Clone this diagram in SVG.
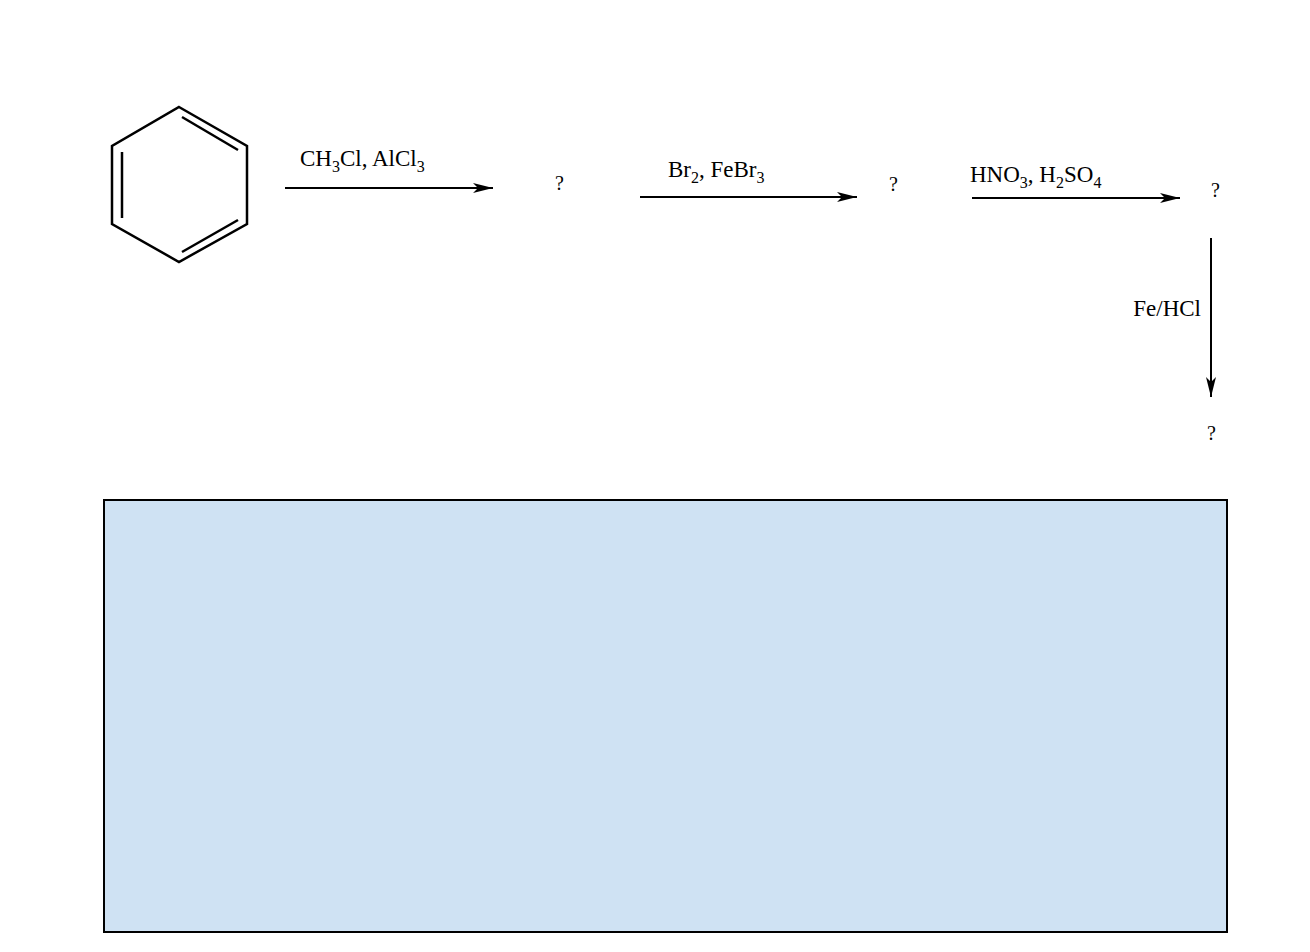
<svg xmlns="http://www.w3.org/2000/svg" width="1310" height="952" viewBox="0 0 1310 952">
<style>
text{font-family:"Liberation Serif","Times New Roman",serif;font-size:23px;fill:#000}
.q{font-size:20px}
.b{stroke:#000;stroke-width:2.5;fill:none}
.c{stroke:#000;stroke-width:2;fill:none}
</style>
<defs><marker id="ah" viewBox="0 0 20 10" refX="20" refY="5" markerWidth="20" markerHeight="10" markerUnits="userSpaceOnUse" orient="auto"><path d="M0,0 L20,5 L0,10 L5,5 Z" fill="#000"/></marker></defs>
<rect width="1310" height="952" fill="#fff"/>
<g id="benzene">
<polygon class="b" points="179,107 247,146 247,224 179,262 112,224 112,146"/>
<line class="b" x1="182" y1="117" x2="238" y2="150"/>
<line class="b" x1="122" y1="152" x2="122" y2="218"/>
<line class="b" x1="182" y1="252" x2="238" y2="220"/>
</g>
<g id="connectors">
<line class="c" x1="285" y1="188" x2="493" y2="188" marker-end="url(#ah)"/>
<line class="c" x1="640" y1="197" x2="857" y2="197" marker-end="url(#ah)"/>
<line class="c" x1="972" y1="198" x2="1180" y2="198" marker-end="url(#ah)"/>
<line class="c" x1="1211" y1="238" x2="1211" y2="397" marker-end="url(#ah)"/>
</g>
<g id="labels">
<text x="300" y="166">CH<tspan font-size="16" dy="6">3</tspan><tspan dy="-6">Cl, AlCl</tspan><tspan font-size="16" dy="6">3</tspan></text>
<text x="668" y="177">Br<tspan font-size="16" dy="6">2</tspan><tspan dy="-6">, FeBr</tspan><tspan font-size="16" dy="6">3</tspan></text>
<text x="970" y="182">HNO<tspan font-size="16" dy="6">3</tspan><tspan dy="-6">, H</tspan><tspan font-size="16" dy="6">2</tspan><tspan dy="-6">SO</tspan><tspan font-size="16" dy="6">4</tspan></text>
<text x="1201" y="316" text-anchor="end">Fe/HCl</text>
</g>
<g id="products">
<text class="q" x="555" y="190">?</text>
<text class="q" x="889" y="191">?</text>
<text class="q" x="1211" y="197">?</text>
<text class="q" x="1207" y="440">?</text>
</g>
<rect id="box" x="104" y="500" width="1123" height="432" fill="#cfe2f3" stroke="#000" stroke-width="2"/>
</svg>
